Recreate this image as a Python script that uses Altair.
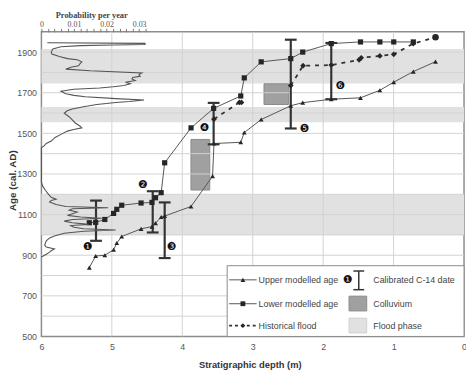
import altair as alt
import pandas as pd

W, H = 430, 310

# ---------------- data ----------------
band_start = [1000, 1555, 1745]
band_end = [1200, 1630, 1915]

coll_depth_a = [3.877, 2.84]
coll_depth_b = [3.61, 2.49]
coll_age_low = [1221, 1642]
coll_age_high = [1470, 1744]

grid_ages = list(range(600, 2000, 100))
grid_depths = [1, 2, 3, 4, 5]

upper_depth = [5.32, 5.23, 5.10, 4.975, 4.93, 4.86, 4.585, 4.43, 4.38, 4.30, 4.25, 3.876, 3.57, 3.55,
               3.17, 3.12, 2.88, 2.46, 2.29, 1.885, 1.47, 1.195, 0.998, 0.72, 0.405]
upper_age = [839, 896, 900, 927, 960, 992, 1030, 1041, 1058, 1088, 1093, 1140, 1289, 1450,
             1456, 1504, 1568, 1636, 1651, 1668, 1675, 1712, 1752, 1804, 1853]

lower_depth = [5.32, 5.23, 5.10, 4.975, 4.93, 4.86, 4.585, 4.43, 4.38, 4.30, 4.25, 3.876, 3.555,
               3.17, 3.12, 2.88, 2.46, 2.29, 1.885, 1.47, 1.195, 0.998, 0.72]
lower_age = [1060, 1062, 1076, 1106, 1126, 1146, 1157, 1160, 1183, 1208, 1355, 1527, 1623,
             1684, 1773, 1852, 1868, 1900, 1942, 1950, 1950, 1950, 1950]

flood_depth = [3.55, 3.19, 3.16, 2.46, 2.285, 1.885, 1.49, 1.46, 1.195, 0.998, 0.72, 0.405]
flood_age = [1570, 1652, 1652, 1735, 1833, 1836, 1862, 1872, 1881, 1889, 1942, 1973]
flood_group = [1, 1, 1, 2, 2, 2, 2, 2, 2, 2, 2, 2]

c14_label = ["❶", "❷", "❸", "❹", "❺", "❻"]
c14_depth = [5.225, 4.42, 4.25, 3.555, 2.46, 1.885]
c14_low = [971, 1012, 886, 1446, 1524, 1668]
c14_high = [1169, 1215, 1160, 1650, 1961, 1945]
label_depth = [5.343, 4.561, 4.152, 3.688, 2.268, 1.757]
label_age = [939, 1244, 942, 1527, 1522, 1731]

prob_age = [1946, 1943, 1937, 1935, 1932, 1926, 1915, 1900, 1890, 1878, 1868, 1862, 1852, 1842,
            1833, 1825, 1816, 1808, 1797, 1790, 1786, 1781, 1775, 1768, 1760, 1752, 1744, 1736,
            1729, 1723, 1717, 1707, 1695, 1687, 1680, 1671, 1664, 1657, 1652, 1642, 1631, 1620,
            1611, 1599, 1583, 1567, 1551, 1535, 1527, 1519, 1511, 1495, 1480, 1462, 1450, 1438,
            1430, 1260, 1240, 1220, 1200, 1185, 1176, 1170, 1162, 1150, 1140, 1134, 1129, 1122,
            1112, 1104, 1096, 1088, 1082, 1076, 1068, 1060, 1052, 1046, 1038, 1030, 1024, 1018,
            1008, 995, 985, 971, 950, 940, 931, 922, 915, 905, 891]
prob_value = [0.0018, 0.0318, 0.0318, 0.022, 0.012, 0.006, 0.0035, 0.003, 0.0032, 0.0055, 0.008,
              0.011, 0.0124, 0.0118, 0.0114, 0.009, 0.0075, 0.015, 0.0308, 0.030, 0.030, 0.0303,
              0.028, 0.0278, 0.0288, 0.0258, 0.0273, 0.0253, 0.022, 0.0179, 0.0099, 0.006, 0.0075,
              0.010, 0.0135, 0.0228, 0.0315, 0.027, 0.0228, 0.017, 0.0129, 0.0095, 0.0079, 0.007,
              0.0084, 0.0094, 0.0104, 0.0119, 0.0124, 0.0099, 0.008, 0.006, 0.0042, 0.003, 0.0015,
              0.0008, 0.0, 0.0, 0.0004, 0.0012, 0.0022, 0.003, 0.0045, 0.003, 0.0025, 0.0045,
              0.0075, 0.0205, 0.0095, 0.0085, 0.011, 0.0095, 0.008, 0.012, 0.0185, 0.0095, 0.007,
              0.0095, 0.0145, 0.009, 0.010, 0.013, 0.0228, 0.013, 0.007, 0.004, 0.0025, 0.0015,
              0.001, 0.0015, 0.004, 0.003, 0.0025, 0.0015, 0.0]

legend_left = ["Upper modelled age", "Lower modelled age", "Historical flood"]
legend_right = ["Calibrated C-14 date", "Colluvium", "Flood phase"]

# ---------------- styling helpers ----------------
SANS = "Liberation Sans"
SERIF = "Liberation Serif"
LINE = "#555555"
MARK = "#262626"

depth_axis = alt.Axis(values=[0, 1, 2, 3, 4, 5, 6], format="d", grid=False, domain=False,
                      ticks=False, tickSize=0, labelPadding=6, labelFont=SANS, labelFontSize=9,
                      labelColor="#555555", labelFlush=False, labelOverlap=False,
                      title="Stratigraphic depth (m)", titleFont=SANS, titleFontSize=9.5,
                      titleFontWeight="bold", titleColor="#333333", titleY=24,
                      titleBaseline="top", titleX=212, titleAlign="center")
age_axis = alt.Axis(values=list(range(500, 2001, 100)), format="d",
                    labelExpr="datum.value % 200 == 100 ? datum.label : ''",
                    grid=False, domain=False, ticks=False, tickSize=0, labelPadding=5,
                    labelFont=SANS, labelFontSize=9, labelColor="#555555", labelOverlap=False,
                    title="Age (cal. AD)", titleFont=SANS, titleFontSize=10,
                    titleFontWeight="bold", titleColor="#333333", titleAngle=270,
                    titleX=-29.5, titleY=151, titleBaseline="middle", titleAlign="center")
prob_axis = alt.Axis(orient="top", values=[i * 0.002 for i in range(17)],
                     labelExpr="round(datum.value*1000) % 10 == 0 ? format(datum.value, '.2~f') : ''",
                     grid=False, domain=False, ticks=True, tickSize=3.5, tickColor="#777777",
                     tickWidth=1, labelPadding=0, labelFont=SERIF, labelFontSize=8,
                     labelColor="#555555", labelFlush=False, labelOverlap=False,
                     title="Probability per year", titleFont=SERIF, titleFontSize=8.5,
                     titleFontWeight="bold", titleColor="#444444", titleX=50.7, titleY=-15,
                     titleBaseline="alphabetic", titleAlign="center")

dscale = alt.Scale(domain=[0, 6], reverse=True, nice=False, zero=False)
ascale = alt.Scale(domain=[500, 2000], nice=False, zero=False)


def X(field):
    return alt.X(f"{field}:Q", scale=dscale, axis=depth_axis)


def X2(field):
    return alt.X2(f"{field}:Q")


def Y(field):
    return alt.Y(f"{field}:Q", scale=ascale, axis=age_axis)


def Y2(field):
    return alt.Y2(f"{field}:Q")


# ---------------- data frames ----------------
bands = pd.DataFrame({"a1": band_start, "a2": band_end})
coll = pd.DataFrame({"d1": coll_depth_a, "d2": coll_depth_b, "a1": coll_age_low, "a2": coll_age_high})
gh = pd.DataFrame({"age": grid_ages})
gv = pd.DataFrame({"depth": grid_depths})
up = pd.DataFrame({"depth": upper_depth, "age": upper_age})
lo = pd.DataFrame({"depth": lower_depth, "age": lower_age})
fl = pd.DataFrame({"depth": flood_depth, "age": flood_age, "g": flood_group})
c14 = pd.DataFrame({"depth": c14_depth, "low": c14_low, "high": c14_high})
lab = pd.DataFrame({"depth": label_depth, "age": label_age, "t": c14_label})
prob = pd.DataFrame({"age": prob_age, "p": prob_value, "i": list(range(len(prob_age)))})
one = pd.DataFrame({"k": [0]})

# ---------------- layers ----------------
band_layer = alt.Chart(bands).mark_rect(color="#e1e1e1").encode(
    x=alt.value(0), x2=alt.value(W), y=Y("a1"), y2=Y2("a2"))
coll_layer = alt.Chart(coll).mark_rect(fill="#a0a0a0", stroke="#8a8a8a", strokeWidth=1).encode(
    x=X("d1"), x2=X2("d2"), y=Y("a1"), y2=Y2("a2"))
gh_layer = alt.Chart(gh).mark_rule(color="#d2d2d2", strokeWidth=1).encode(
    y=Y("age"), x=alt.value(0), x2=alt.value(W))
gv_layer = alt.Chart(gv).mark_rule(color="#d2d2d2", strokeWidth=1).encode(
    x=X("depth"), y=alt.value(0), y2=alt.value(H))

up_line = alt.Chart(up).mark_line(color=LINE, strokeWidth=1).encode(x=X("depth"), y=Y("age"))
up_pts = alt.Chart(up).mark_point(shape="triangle-up", filled=True, size=24, color=MARK, opacity=1).encode(
    x=X("depth"), y=Y("age"))
lo_line = alt.Chart(lo).mark_line(color=LINE, strokeWidth=1).encode(x=X("depth"), y=Y("age"))
lo_pts = alt.Chart(lo).mark_point(shape="square", filled=True, size=28, color=MARK, opacity=1).encode(
    x=X("depth"), y=Y("age"))
fl_line = alt.Chart(fl).mark_line(color="#333333", strokeWidth=1.8, strokeDash=[4, 5]).encode(
    x=X("depth"), y=Y("age"), detail="g:N")
fl_pts = alt.Chart(fl).transform_filter("datum.depth > 0.5").mark_point(
    shape="diamond", filled=True, size=34, color=MARK, opacity=1).encode(x=X("depth"), y=Y("age"))
fl_end = alt.Chart(fl).transform_filter("datum.depth < 0.5").mark_point(
    shape="circle", filled=True, size=45, color=MARK, opacity=1).encode(x=X("depth"), y=Y("age"))

c14_rule = alt.Chart(c14).mark_rule(color="#333333", strokeWidth=2.2).encode(
    x=X("depth"), y=Y("low"), y2=Y2("high"))
c14_caps = alt.Chart(c14).transform_fold(["low", "high"], as_=["end", "cap"]).mark_tick(
    orient="horizontal", size=12, thickness=2.2, color="#333333", opacity=1).encode(
    x=X("depth"), y=Y("cap"))
lab_layer = alt.Chart(lab).mark_text(font="DejaVu Sans", fontSize=11, color="#111111").encode(
    x=X("depth"), y=Y("age"), text="t:N")

# ---------------- legend ----------------
LX0, LX1, LY0, LY1 = 189, W, 238, H
rows = [252.4, 276.7, 299.0]
legend = [alt.Chart(one).mark_rect(fill="white", stroke="#8a8a8a", strokeWidth=1).encode(
    x=alt.value(LX0), x2=alt.value(LX1), y=alt.value(LY0), y2=alt.value(LY1))]
for r, (shape, dash) in zip(rows, [("triangle-up", None), ("square", None), ("diamond", [3, 3])]):
    kw = dict(color=LINE if dash is None else "#333333", strokeWidth=1 if dash is None else 1.6)
    if dash:
        kw["strokeDash"] = dash
    legend.append(alt.Chart(one).mark_rule(**kw).encode(
        x=alt.value(191), x2=alt.value(219), y=alt.value(r)))
    legend.append(alt.Chart(one).mark_point(shape=shape, filled=True, size=24, color=MARK, opacity=1).encode(
        x=alt.value(205), y=alt.value(r)))
for r, t in zip(rows, legend_left):
    legend.append(alt.Chart(one).mark_text(font=SANS, fontSize=9, color="#444444", align="left",
                                           baseline="middle", text=t).encode(
        x=alt.value(221), y=alt.value(r)))
for r, t in zip(rows, legend_right):
    legend.append(alt.Chart(one).mark_text(font=SANS, fontSize=9, color="#444444", align="left",
                                           baseline="middle", text=t).encode(
        x=alt.value(337.7), y=alt.value(r)))
legend.append(alt.Chart(one).mark_text(font="DejaVu Sans", fontSize=11, color="#111111",
                                       text="❶").encode(x=alt.value(311.4), y=alt.value(rows[0])))
legend.append(alt.Chart(one).mark_rule(color="#333333", strokeWidth=1.5).encode(
    x=alt.value(322.9), y=alt.value(243.4), y2=alt.value(262.4)))
for cy in (243.4, 262.4):
    legend.append(alt.Chart(one).mark_rule(color="#333333", strokeWidth=1.5).encode(
        x=alt.value(317.4), x2=alt.value(328.4), y=alt.value(cy)))
legend.append(alt.Chart(one).mark_rect(fill="#a0a0a0", stroke="#8a8a8a", strokeWidth=1).encode(
    x=alt.value(313), x2=alt.value(331), y=alt.value(269), y2=alt.value(284)))
legend.append(alt.Chart(one).mark_rect(fill="#e1e1e1", stroke="#d0d0d0", strokeWidth=1).encode(
    x=alt.value(313), x2=alt.value(331), y=alt.value(291.4), y2=alt.value(306.4)))

inner = alt.layer(band_layer, coll_layer, gh_layer, gv_layer,
                  up_line, lo_line, fl_line, c14_rule, c14_caps,
                  up_pts, lo_pts, fl_pts, fl_end, lab_layer, *legend)

prob_layer = alt.Chart(prob).mark_line(color="#555555", strokeWidth=1.1).encode(
    x=alt.X("p:Q", scale=alt.Scale(domain=[0, 0.1297], nice=False, zero=False), axis=prob_axis),
    y=Y("age"), order="i:Q")

chart = alt.layer(inner, prob_layer).resolve_scale(x="independent").properties(
    width=W, height=H,
    padding={"left": 34, "top": 21, "right": 2, "bottom": 36},
    autosize=alt.AutoSizeParams(type="none"),
).configure_view(stroke="#8c8c8c", strokeWidth=1.5)

chart.save("out.html", embed_options={"renderer": "svg", "actions": False})
